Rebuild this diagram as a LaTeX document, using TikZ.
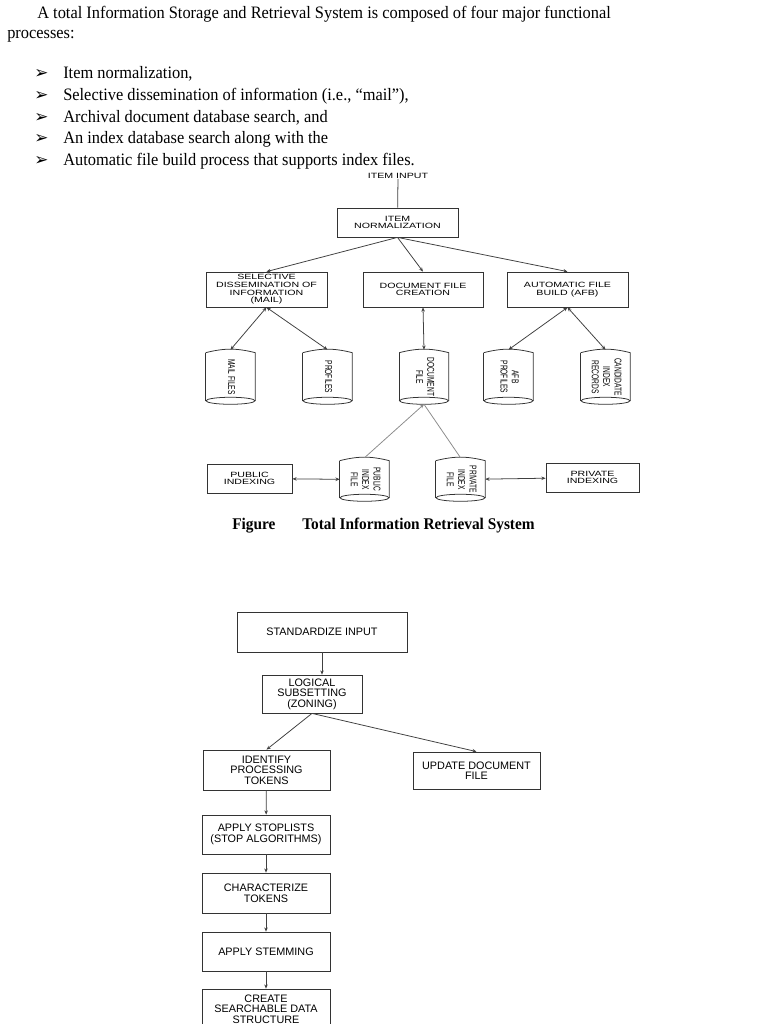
\documentclass[tikz,border=0pt]{standalone}
\usepackage{fontspec}
\setmainfont{Liberation Serif}[FakeStretch=0.94]
\newfontfamily\diagfont{Liberation Sans}[FakeStretch=1.4]
\newfontfamily\flowfont{Liberation Sans}
\newfontfamily\symfont{DejaVu Sans}
\usetikzlibrary{arrows.meta,positioning,calc}

\tikzset{
  >={Stealth[length=3pt,width=2.5pt]},
  txt/.style={anchor=base west, inner sep=0pt, font=\fontsize{12.4}{14}\selectfont},
  tbox/.style={draw=black!80, line width=.55pt, align=center, inner sep=0pt,
    font=\diagfont\fontsize{5.4}{5.5}\selectfont},
  fbox/.style={draw=black!80, line width=.55pt, align=center, inner sep=0pt,
    font=\flowfont\fontsize{7.7}{7.5}\selectfont},
  drum/.style={minimum width=1.225cm, minimum height=1.35cm, inner sep=0pt},
  link/.style={draw=black!75, line width=.55pt},
}

% cylinder outline round a named node
\newcommand\drum[1]{%
  \draw[black!80, line width=.55pt] ([yshift=-2.1pt]#1.north west) to[bend left=14] ([yshift=-2.1pt]#1.north east)
    -- ([yshift=2.5pt]#1.south east);
  \draw[black!80, line width=.55pt] ([yshift=-2.1pt]#1.north west) -- ([yshift=2.5pt]#1.south west);
  \draw[black!80, line width=.55pt] ([yshift=2.5pt]#1.south) ellipse [x radius=0.6125cm, y radius=2.5pt];
}
\newcommand\drumtext[1]{\rotatebox{-90}{\scalebox{1}[1.5]{\flowfont\fontsize{4.7}{5.4}\selectfont
  \begin{tabular}{@{}c@{}}#1\end{tabular}}}}
\newcommand\pointer{{\symfont\fontsize{12}{12}\selectfont ➢}}

\begin{document}
\begin{tikzpicture}[x=0.025cm, y=-0.025cm]
\useasboundingbox[fill=white] (0,0) rectangle (768,1024);

% text above the figure
\node[txt] (intro) at (37,18.3) {A total Information Storage and Retrieval System is composed of four major functional};
\node[txt] (intro2) at (7,38.3) {processes:};
\foreach \y/\item [count=\i] in {79/{Item normalization,},
    100.7/{Selective dissemination of information (i.e., ``mail''),},
    122.3/{Archival document database search, and},
    144/{An index database search along with the},
    165.7/{Automatic file build process that supports index files.}} {
  \node[txt] (mark\i) at (34,\y) {\pointer};
  \node[txt] (item\i) at (63,\y) {\item};
}

% total information retrieval system
\node[inner sep=0pt, font=\diagfont\fontsize{5.4}{5.4}\selectfont] (input) at (398,176) {ITEM INPUT};
\node[tbox, minimum width=3.025cm, minimum height=0.725cm] (norm) at (397.5,222.5) {ITEM\\NORMALIZATION};
\node[tbox, minimum width=3.025cm, minimum height=0.875cm] (sdi) at (266.5,289.5) {SELECTIVE\\DISSEMINATION OF\\INFORMATION\\(MAIL)};
\node[tbox, minimum width=3cm, minimum height=0.875cm] (dfc) at (423,289.5) {DOCUMENT FILE\\CREATION};
\node[tbox, minimum width=3.025cm, minimum height=0.875cm] (afb) at (567.5,289.5) {AUTOMATIC FILE\\BUILD (AFB)};

\node[drum] (mail) at (230.5,377) {\drumtext{MAIL FILES}};
\node[drum] (prof) at (327.5,377) {\drumtext{PROFILES}};
\node[drum] (doc) at (424,377) {\drumtext{DOCUMENT\\FILE}};
\node[drum] (afbp) at (508.5,377) {\drumtext{AFB\\PROFILES}};
\node[drum] (cand) at (605.5,377) {\drumtext{CANDIDATE\\INDEX\\RECORDS}};
\node[drum, minimum height=1.075cm] (pubf) at (364.5,479.5) {\drumtext{PUBLIC\\INDEX\\FILE}};
\node[drum, minimum height=1.075cm] (privf) at (460.5,479.5) {\drumtext{PRIVATE\\INDEX\\FILE}};
\foreach \d in {mail,prof,doc,afbp,cand,pubf,privf} {\drum{\d}}

\node[tbox, minimum width=2.125cm, minimum height=0.725cm] (pubi) at (249.5,478.5) {PUBLIC\\INDEXING};
\node[tbox, minimum width=2.325cm, minimum height=0.725cm] (privi) at (592.5,477.5) {PRIVATE\\INDEXING};

\draw[link] (input) -- (norm);
\draw[link,->] (norm.south) -- (sdi.north);
\draw[link,->] (norm.south) -- (dfc.north);
\draw[link,->] (norm.south) -- (afb.north);
\draw[link,<->] (sdi.south) -- (mail.north);
\draw[link,<->] (sdi.south) -- (prof.north);
\draw[link,<->] (dfc.south) -- (doc.north);
\draw[link,<->] (afb.south) -- (afbp.north);
\draw[link,<->] (afb.south) -- (cand.north);
\draw[link,draw=black!45,<-] (doc.south) -- (pubf.north);
\draw[link,draw=black!45] (doc.south) -- (privf.north);
\draw[link,<->] (pubi) -- (pubf);
\draw[link,<->] (privf) -- (privi);

\node[txt, font=\bfseries\fontsize{11.6}{14}\selectfont] (fig) at (232,529) {Figure};
\node[txt, font=\bfseries\fontsize{11.6}{14}\selectfont] (title) at (302,529) {Total Information Retrieval System};

% indexing process
\node[fbox, minimum width=4.25cm, minimum height=1cm] (std) at (322,632) {STANDARDIZE INPUT};
\node[fbox, minimum width=2.5cm, minimum height=0.95cm] (logic) at (312,694) {LOGICAL\\SUBSETTING\\(ZONING)};
\node[fbox, minimum width=3.175cm, minimum height=1cm] (ident) at (266.5,770) {IDENTIFY\\PROCESSING\\TOKENS};
\node[fbox, minimum width=3.175cm, minimum height=0.925cm] (update) at (476.5,770.5) {UPDATE DOCUMENT\\FILE};
\node[fbox, minimum width=3.2cm, minimum height=0.975cm] (stop) at (266,834.5) {APPLY STOPLISTS\\(STOP ALGORITHMS)};
\node[fbox, minimum width=3.2cm, minimum height=1cm] (char) at (266,893) {CHARACTERIZE\\TOKENS};
\node[fbox, minimum width=3.2cm, minimum height=0.975cm] (stem) at (266,951.5) {APPLY STEMMING};
\node[fbox, minimum width=3.2cm, minimum height=1cm] (create) at (266,1009) {CREATE\\SEARCHABLE DATA\\STRUCTURE};

\draw[link,->] (std.south) -- (std.south |- logic.north);
\draw[link,->] (logic.south) -- (ident.north);
\draw[link,->] (logic.south) -- (update.north);
\draw[link,->] (ident) -- (stop);
\draw[link,->] (stop) -- (char);
\draw[link,->] (char) -- (stem);
\draw[link,->] (stem) -- (create);
\end{tikzpicture}
\end{document}
